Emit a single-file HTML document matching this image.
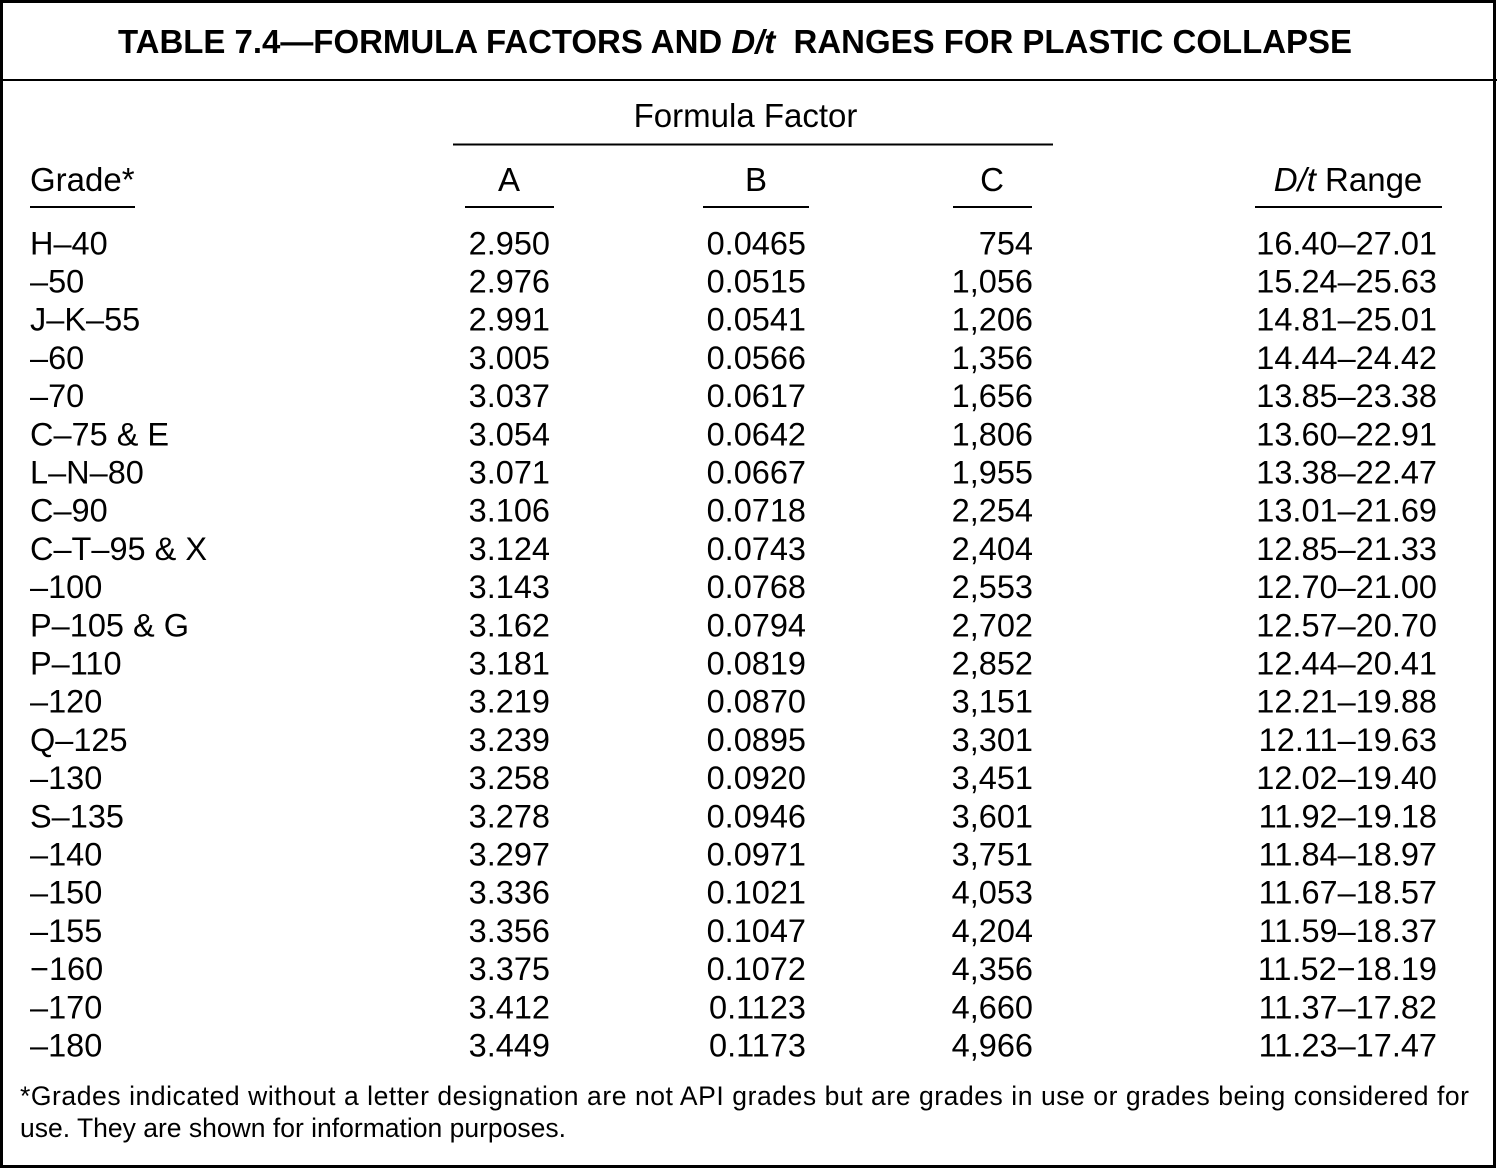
<!DOCTYPE html>
<html>
<head>
<meta charset="utf-8">
<style>
html,body{margin:0;padding:0;background:#fff;}
svg{display:block;}
text{font-family:"Liberation Sans",Arial,sans-serif;fill:#000;}
</style>
</head>
<body>
<svg width="1497" height="1169" viewBox="0 0 1497 1169" xmlns="http://www.w3.org/2000/svg">
<rect x="0" y="0" width="1497" height="1169" fill="#fff"/>
<rect x="1.5" y="1.5" width="1493" height="1165" fill="none" stroke="#000" stroke-width="3"/>
<line x1="0" y1="80" x2="1497" y2="80" stroke="#000" stroke-width="2"/>

<text x="118" y="53" font-size="33.5" font-weight="bold" textLength="1234" lengthAdjust="spacingAndGlyphs" xml:space="preserve">TABLE 7.4—FORMULA FACTORS AND <tspan font-style="italic">D/t</tspan>  RANGES FOR PLASTIC COLLAPSE</text>

<text x="745.5" y="127" font-size="33" text-anchor="middle">Formula Factor</text>
<line x1="453" y1="144.5" x2="1053" y2="144.5" stroke="#000" stroke-width="2"/>

<g font-size="33">
<text x="30" y="191">Grade*</text>
<text x="509" y="191" text-anchor="middle">A</text>
<text x="756" y="191" text-anchor="middle">B</text>
<text x="992" y="191" text-anchor="middle">C</text>
<text x="1348" y="191" text-anchor="middle"><tspan font-style="italic">D/t</tspan> Range</text>
</g>
<g stroke="#000" stroke-width="2">
<line x1="30" y1="207" x2="135" y2="207"/>
<line x1="465" y1="207" x2="554" y2="207"/>
<line x1="703" y1="207" x2="809" y2="207"/>
<line x1="953" y1="207" x2="1032" y2="207"/>
<line x1="1255" y1="207" x2="1442" y2="207"/>
</g>

<g font-size="32.5">
<text x="30" y="254.3">H–40</text>
<text x="30" y="292.5">–50</text>
<text x="30" y="330.7">J–K–55</text>
<text x="30" y="368.9">–60</text>
<text x="30" y="407.1">–70</text>
<text x="30" y="445.3">C–75 &amp; E</text>
<text x="30" y="483.5">L–N–80</text>
<text x="30" y="521.7">C–90</text>
<text x="30" y="559.9">C–T–95 &amp; X</text>
<text x="30" y="598.1">–100</text>
<text x="30" y="636.3">P–105 &amp; G</text>
<text x="30" y="674.5">P–110</text>
<text x="30" y="712.7">–120</text>
<text x="30" y="750.9">Q–125</text>
<text x="30" y="789.1">–130</text>
<text x="30" y="827.3">S–135</text>
<text x="30" y="865.5">–140</text>
<text x="30" y="903.7">–150</text>
<text x="30" y="941.9">–155</text>
<text x="30" y="980.1">−160</text>
<text x="30" y="1018.3">–170</text>
<text x="30" y="1056.5">–180</text>
</g>

<g font-size="32.5" text-anchor="end">
<text x="550" y="254.3">2.950</text>
<text x="550" y="292.5">2.976</text>
<text x="550" y="330.7">2.991</text>
<text x="550" y="368.9">3.005</text>
<text x="550" y="407.1">3.037</text>
<text x="550" y="445.3">3.054</text>
<text x="550" y="483.5">3.071</text>
<text x="550" y="521.7">3.106</text>
<text x="550" y="559.9">3.124</text>
<text x="550" y="598.1">3.143</text>
<text x="550" y="636.3">3.162</text>
<text x="550" y="674.5">3.181</text>
<text x="550" y="712.7">3.219</text>
<text x="550" y="750.9">3.239</text>
<text x="550" y="789.1">3.258</text>
<text x="550" y="827.3">3.278</text>
<text x="550" y="865.5">3.297</text>
<text x="550" y="903.7">3.336</text>
<text x="550" y="941.9">3.356</text>
<text x="550" y="980.1">3.375</text>
<text x="550" y="1018.3">3.412</text>
<text x="550" y="1056.5">3.449</text>
</g>

<g font-size="32.5" text-anchor="end">
<text x="806" y="254.3">0.0465</text>
<text x="806" y="292.5">0.0515</text>
<text x="806" y="330.7">0.0541</text>
<text x="806" y="368.9">0.0566</text>
<text x="806" y="407.1">0.0617</text>
<text x="806" y="445.3">0.0642</text>
<text x="806" y="483.5">0.0667</text>
<text x="806" y="521.7">0.0718</text>
<text x="806" y="559.9">0.0743</text>
<text x="806" y="598.1">0.0768</text>
<text x="806" y="636.3">0.0794</text>
<text x="806" y="674.5">0.0819</text>
<text x="806" y="712.7">0.0870</text>
<text x="806" y="750.9">0.0895</text>
<text x="806" y="789.1">0.0920</text>
<text x="806" y="827.3">0.0946</text>
<text x="806" y="865.5">0.0971</text>
<text x="806" y="903.7">0.1021</text>
<text x="806" y="941.9">0.1047</text>
<text x="806" y="980.1">0.1072</text>
<text x="806" y="1018.3">0.1123</text>
<text x="806" y="1056.5">0.1173</text>
</g>

<g font-size="32.5" text-anchor="end">
<text x="1033" y="254.3">754</text>
<text x="1033" y="292.5">1,056</text>
<text x="1033" y="330.7">1,206</text>
<text x="1033" y="368.9">1,356</text>
<text x="1033" y="407.1">1,656</text>
<text x="1033" y="445.3">1,806</text>
<text x="1033" y="483.5">1,955</text>
<text x="1033" y="521.7">2,254</text>
<text x="1033" y="559.9">2,404</text>
<text x="1033" y="598.1">2,553</text>
<text x="1033" y="636.3">2,702</text>
<text x="1033" y="674.5">2,852</text>
<text x="1033" y="712.7">3,151</text>
<text x="1033" y="750.9">3,301</text>
<text x="1033" y="789.1">3,451</text>
<text x="1033" y="827.3">3,601</text>
<text x="1033" y="865.5">3,751</text>
<text x="1033" y="903.7">4,053</text>
<text x="1033" y="941.9">4,204</text>
<text x="1033" y="980.1">4,356</text>
<text x="1033" y="1018.3">4,660</text>
<text x="1033" y="1056.5">4,966</text>
</g>

<g font-size="32.5" text-anchor="end">
<text x="1437" y="254.3">16.40–27.01</text>
<text x="1437" y="292.5">15.24–25.63</text>
<text x="1437" y="330.7">14.81–25.01</text>
<text x="1437" y="368.9">14.44–24.42</text>
<text x="1437" y="407.1">13.85–23.38</text>
<text x="1437" y="445.3">13.60–22.91</text>
<text x="1437" y="483.5">13.38–22.47</text>
<text x="1437" y="521.7">13.01–21.69</text>
<text x="1437" y="559.9">12.85–21.33</text>
<text x="1437" y="598.1">12.70–21.00</text>
<text x="1437" y="636.3">12.57–20.70</text>
<text x="1437" y="674.5">12.44–20.41</text>
<text x="1437" y="712.7">12.21–19.88</text>
<text x="1437" y="750.9">12.11–19.63</text>
<text x="1437" y="789.1">12.02–19.40</text>
<text x="1437" y="827.3">11.92–19.18</text>
<text x="1437" y="865.5">11.84–18.97</text>
<text x="1437" y="903.7">11.67–18.57</text>
<text x="1437" y="941.9">11.59–18.37</text>
<text x="1437" y="980.1">11.52−18.19</text>
<text x="1437" y="1018.3">11.37–17.82</text>
<text x="1437" y="1056.5">11.23–17.47</text>
</g>

<text x="20" y="1105" font-size="26.5" textLength="1449" lengthAdjust="spacing">*Grades indicated without a letter designation are not API grades but are grades in use or grades being considered for</text>
<text x="20" y="1137" font-size="26.5">use. They are shown for information purposes.</text>
</svg>
</body>
</html>
